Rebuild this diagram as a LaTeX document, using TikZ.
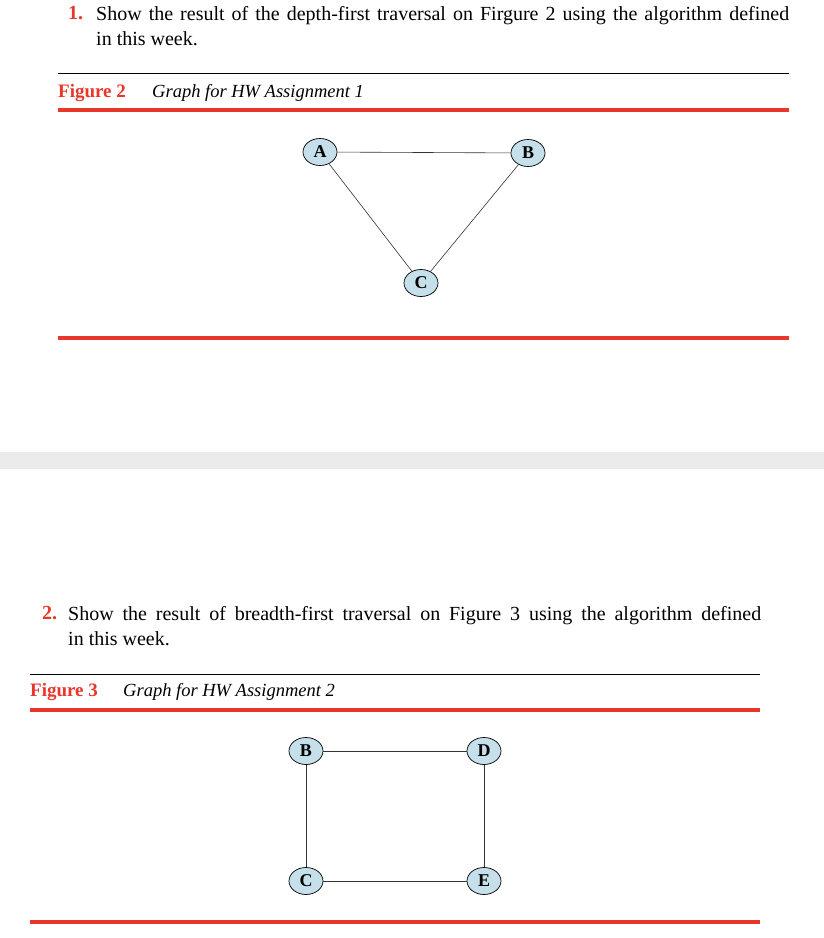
\documentclass[tikz,border=0pt]{standalone}
\usepackage{fontspec}
\setmainfont{Liberation Serif}
\usetikzlibrary{shapes.geometric}
\definecolor{fred}{HTML}{E8372A}
\definecolor{thin}{HTML}{D4A79F}
\definecolor{nodeblue}{HTML}{C5E0EA}
\tikzset{
 vert/.style={ellipse,draw=black,fill=nodeblue,line width=0.7pt,minimum width=34pt,minimum height=27pt,inner sep=0pt,font=\fontsize{18}{18}\selectfont\bfseries},
 edge/.style={line width=0.6pt,draw=black!80},
 thick/.style={fred,line width=3.5pt},
 thinl/.style={thin,line width=0.8pt},
 qtext/.style={anchor=north west,inner sep=0pt,text width=693pt,align=justify,font=\fontsize{20}{25}\selectfont},
 qnum/.style={anchor=north west,inner sep=0pt,text=fred,font=\fontsize{20}{25}\selectfont\bfseries},
 figl/.style={anchor=west,inner sep=0pt,text=fred,font=\fontsize{19}{20}\selectfont\bfseries},
 figc/.style={anchor=west,inner sep=0pt,font=\fontsize{18.5}{20}\selectfont\itshape}
}
\begin{document}
\begin{tikzpicture}[x=1pt,y=-1pt]
\useasboundingbox (0,0) rectangle (824,938);
\fill[white] (0,0) rectangle (824,938);
\fill[black!8] (0,452) rectangle (824,469);
% Part 1
\node[qnum] (n1) at (68,6) {1.};
\node[qtext] (q1) at (96,6) {Show the result of the depth-first traversal on Firgure 2 using the algorithm defined\linebreak in this week.};
\draw[thinl] (58,73) -- (789,73);
\node[figl] (f2) at (58,93) {Figure 2};
\node[figc] (c2) at (152,93) {Graph for HW Assignment 1};
\draw[thick] (58,110) -- (789,110);
\node[vert] (A) at (320,152) {A};
\node[vert] (B) at (528,153) {B};
\node[vert] (C) at (421,283) {C};
\draw[edge] (A) -- (B);
\draw[edge] (A) -- (C);
\draw[edge] (B) -- (C);
\draw[thick] (58,338) -- (789,338);
% Part 2
\node[qnum] (n2) at (42,606) {2.};
\node[qtext] (q2) at (68,606) {Show the result of breadth-first traversal on Figure 3 using the algorithm defined\linebreak in this week.};
\draw[thinl] (30,674) -- (760,674);
\node[figl] (f3) at (30,692) {Figure 3};
\node[figc] (c3) at (123,692) {Graph for HW Assignment 2};
\draw[thick] (30,710) -- (760,710);
\node[vert] (B2) at (306,751) {B};
\node[vert] (D2) at (484,751) {D};
\node[vert] (C2) at (306,881) {C};
\node[vert] (E2) at (484,881) {E};
\draw[edge] (B2) -- (D2);
\draw[edge] (B2) -- (C2);
\draw[edge] (D2) -- (E2);
\draw[edge] (C2) -- (E2);
\draw[thick] (30,922) -- (760,922);
\end{tikzpicture}
\end{document}
